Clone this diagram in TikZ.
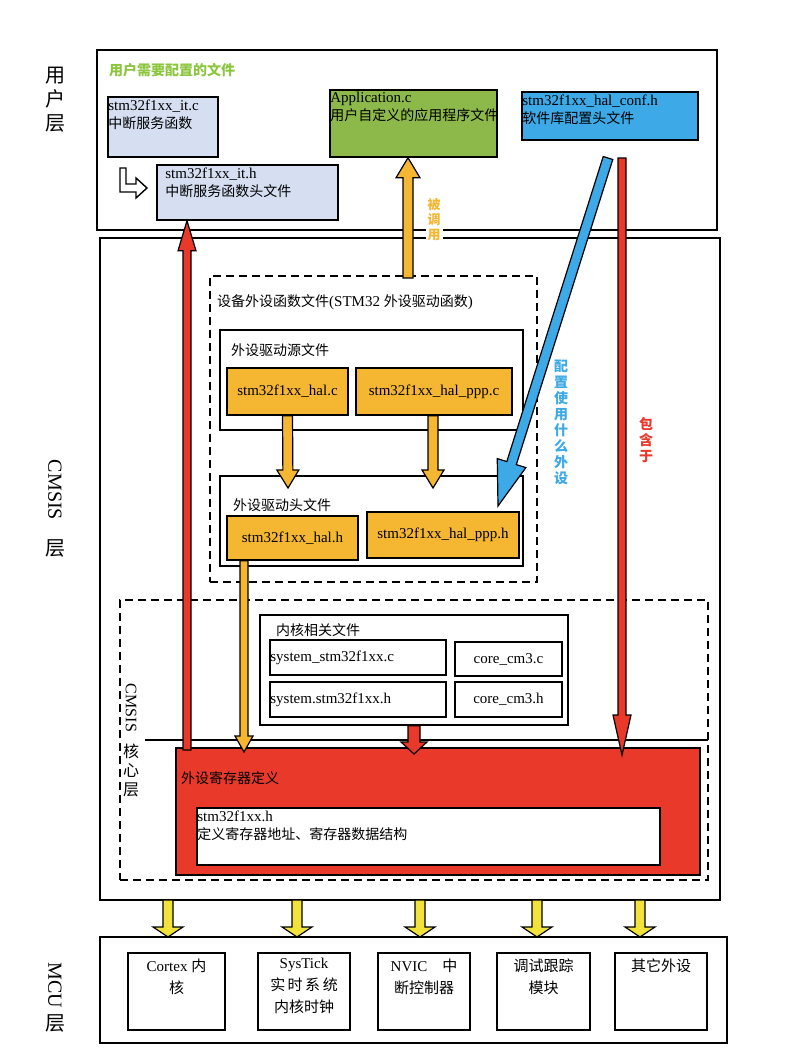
\documentclass[tikz,border=0pt]{standalone}
\usepackage{fontspec}
\setmainfont{Liberation Serif}
\newfontfamily\cjk{Noto Sans CJK SC}
\usetikzlibrary{calc,fit}
\definecolor{lblue}{HTML}{D5DFF1}
\definecolor{appg}{HTML}{8DB84A}
\definecolor{confb}{HTML}{3DA9E6}
\definecolor{orng}{HTML}{F5B731}
\definecolor{redb}{HTML}{E8392A}
\definecolor{yel}{HTML}{F2E33A}
\definecolor{gtxt}{HTML}{8CC63F}
\newcommand\bx[4]{\node[inner sep=0pt,fit={(#2)(#3)},#4] (#1) {};}
\newcommand\fatarr[6]{% color, from, to, half width, head half width, head length
\coordinate (fs) at (#2); \coordinate (fe) at (#3);
\coordinate (fb) at ($(fe)!#6!(fs)$);
\filldraw[fill=#1,draw=black,line width=1.2pt,line join=miter]
 ($(fs)!#4!-90:(fe)$) -- ($(fb)!#4!90:(fs)$) -- ($(fb)!#5!90:(fs)$) -- (fe)
 -- ($(fb)!#5!-90:(fs)$) -- ($(fb)!#4!-90:(fs)$) -- ($(fs)!#4!90:(fe)$) -- cycle;}
\begin{document}
\begin{tikzpicture}[x=1pt,y=-1pt,
  frame/.style={draw=black,line width=1.8pt},
  fb/.style={draw=black,line width=1.6pt},
  dsh/.style={draw=black,line width=1.8pt,dash pattern=on 8pt off 5pt},
  txt/.style={inner sep=1pt,font=\fontsize{15}{18}\selectfont,align=left},
  ctxt/.style={inner sep=1pt,font=\fontsize{14}{17}\selectfont\cjk,align=left}]
\useasboundingbox[fill=white] (0,0) rectangle (792,1062);
% layer labels
\node[ctxt,font=\fontsize{20}{24}\selectfont\cjk,align=center] (l1) at (55,100) {用\\户\\层};
\node[txt,font=\fontsize{20}{24}\selectfont,rotate=-90] (l2) at (55,490) {CMSIS};
\node[ctxt,font=\fontsize{20}{24}\selectfont\cjk] (l2b) at (55,548) {层};
\node[txt,font=\fontsize{20}{24}\selectfont,rotate=-90] (l3) at (55,985) {MCU};
\node[ctxt,font=\fontsize{20}{24}\selectfont\cjk] (l3b) at (55,1023) {层};
% main frames
\bx{user}{97,50}{717,230}{frame}
\bx{cmsis}{100,238}{720,900}{frame}
\bx{mcu}{100,937}{727,1043}{frame}
\node[ctxt,text=gtxt,font=\fontsize{14}{17}\selectfont\cjk\bfseries,anchor=west] (ut) at (108,70) {用户需要配置的文件};
% user files
\bx{itc}{108,97}{218,157}{fb,fill=lblue}
\node[txt,anchor=north west] at ($(itc.north west)+(0,3)$) {stm32f1xx\_it.c\\{\cjk\fontsize{14}{18}\selectfont 中断服务函数}};
\bx{ith}{157,165}{338,220}{fb,fill=lblue}
\node[txt,anchor=north west] at ($(ith.north west)+(8,3)$) {stm32f1xx\_it.h\\{\cjk\fontsize{14}{18}\selectfont 中断服务函数头文件}};
\bx{app}{330,90}{497,157}{fb,fill=appg}
\node[txt,anchor=north west,text width=165pt] at ($(app.north west)+(0,2)$) {Application.c\\{\cjk\fontsize{14}{19}\selectfont 用户自定义的应用程序文件}};
\bx{conf}{522,92}{698,140}{fb,fill=confb}
\node[txt,anchor=north west] at ($(conf.north west)+(0,3)$) {stm32f1xx\_hal\_conf.h\\{\cjk\fontsize{14}{18}\selectfont 软件库配置头文件}};
% small hollow arrow
\draw[line width=1.4pt,line join=miter] (120,168) -- (126,168) -- (126,184) -- (136,184) -- (136,178) -- (147,188) -- (136,198) -- (136,192) -- (120,192) -- cycle;
% device dashed box
\bx{dev}{210,276}{537,582}{dsh}
\node[txt,anchor=west] at (216,302) {{\cjk\fontsize{14}{17}\selectfont 设备外设函数文件}(STM32 {\cjk\fontsize{14}{17}\selectfont 外设驱动函数})};
\bx{src}{220,330}{523,430}{fb}
\node[ctxt,anchor=west] at (230,350) {外设驱动源文件};
\bx{halc}{227,368}{348,415}{fb,fill=orng}
\node[txt] at (halc) {stm32f1xx\_hal.c};
\bx{pppc}{356,368}{512,415}{fb,fill=orng}
\node[txt] at (pppc) {stm32f1xx\_hal\_ppp.c};
\bx{hdr}{220,476}{523,566}{fb}
\node[ctxt,anchor=west] at (232,505) {外设驱动头文件};
\bx{halh}{227,516}{358,560}{fb,fill=orng}
\node[txt] at (halh) {stm32f1xx\_hal.h};
\bx{ppph}{367,512}{519,558}{fb,fill=orng}
\node[txt] at (ppph) {stm32f1xx\_hal\_ppp.h};
% CMSIS core
\bx{core}{120,600}{708,880}{dsh}
\draw[line width=1.6pt] (145,740) -- (708,740);
\node[txt,font=\fontsize{16}{18}\selectfont,rotate=-90] at (131,708) {CMSIS};
\node[ctxt,font=\fontsize{16}{19}\selectfont\cjk,align=center] at (131,770) {核\\心\\层};
\bx{kern}{260,615}{568,725}{fb}
\node[ctxt,anchor=west] at (275,630) {内核相关文件};
\bx{sysc}{270,640}{446,675}{fb}
\node[txt,anchor=west] at (sysc.west) {system\_stm32f1xx.c};
\bx{cm3c}{455,642}{562,676}{fb}
\node[txt] at (cm3c) {core\_cm3.c};
\bx{sysh}{270,682}{446,717}{fb}
\node[txt,anchor=west] at (sysh.west) {system.stm32f1xx.h};
\bx{cm3h}{455,682}{562,717}{fb}
\node[txt] at (cm3h) {core\_cm3.h};
\bx{reg}{176,748}{700,875}{fb,fill=redb}
\node[ctxt,anchor=west] at (180,778) {外设寄存器定义};
\bx{regh}{197,808}{660,865}{fb,fill=white}
\node[txt,anchor=north west] at ($(regh.north west)+(0,3)$) {stm32f1xx.h\\{\cjk\fontsize{14}{18}\selectfont 定义寄存器地址、寄存器数据结构}};
% MCU boxes
\foreach \n/\a/\b/\t in {m1/128/225/{Cortex {\cjk 内}\\{\cjk 核}},m2/258/350/{SysTick\\{\cjk 实\,时\,系\,统}\\{\cjk 内核时钟}},m3/378/470/{NVIC\quad{\cjk 中}\\{\cjk 断控制器}},m4/497/590/{{\cjk 调试跟踪}\\{\cjk 模块}},m5/615/707/{{\cjk 其它外设}}}{
  \bx{\n}{\a,953}{\b,1030}{fb}
  \node[txt,anchor=north,align=center,font=\fontsize{15}{22}\selectfont] at ($(\n.north)+(0,5)$) {\t};
}
\node[txt] at (m3.center) {};
% arrows
\fatarr{orng}{408,278}{app.south -| 408,0}{5pt}{12pt}{20pt}
\node[ctxt,text=orng,fill=white,font=\fontsize{13}{15}\selectfont\cjk\bfseries,align=center,inner sep=2pt] at (434,220) {被\\调\\用};
\fatarr{orng}{halc.south}{288,488}{5pt}{11pt}{18pt}
\fatarr{orng}{pppc.south -| 433,0}{433,488}{5pt}{11pt}{18pt}
\fatarr{orng}{halh.south -| 244,0}{244,752}{4pt}{9pt}{16pt}
\fatarr{confb}{608,158}{498,506}{5pt}{15pt}{45pt}
\node[ctxt,text=confb,font=\fontsize{14}{16}\selectfont\cjk\bfseries,align=center] at (561,422) {配\\置\\使\\用\\什\\么\\外\\设};
\fatarr{redb}{622,158}{622,755}{4pt}{9pt}{40pt}
\node[ctxt,text=redb,font=\fontsize{14}{16}\selectfont\cjk\bfseries,align=center] at (646,440) {包\\含\\于};
\fatarr{redb}{187,750}{ith.south -| 187,0}{4pt}{9pt}{30pt}
\fatarr{redb}{kern.south -| 414,0}{414,754}{6pt}{13pt}{12pt}
\foreach \x in {168,297,420,537,640}{
  \fatarr{yel}{\x,900}{\x,937}{5pt}{15pt}{10pt}
}
\end{tikzpicture}
\end{document}
